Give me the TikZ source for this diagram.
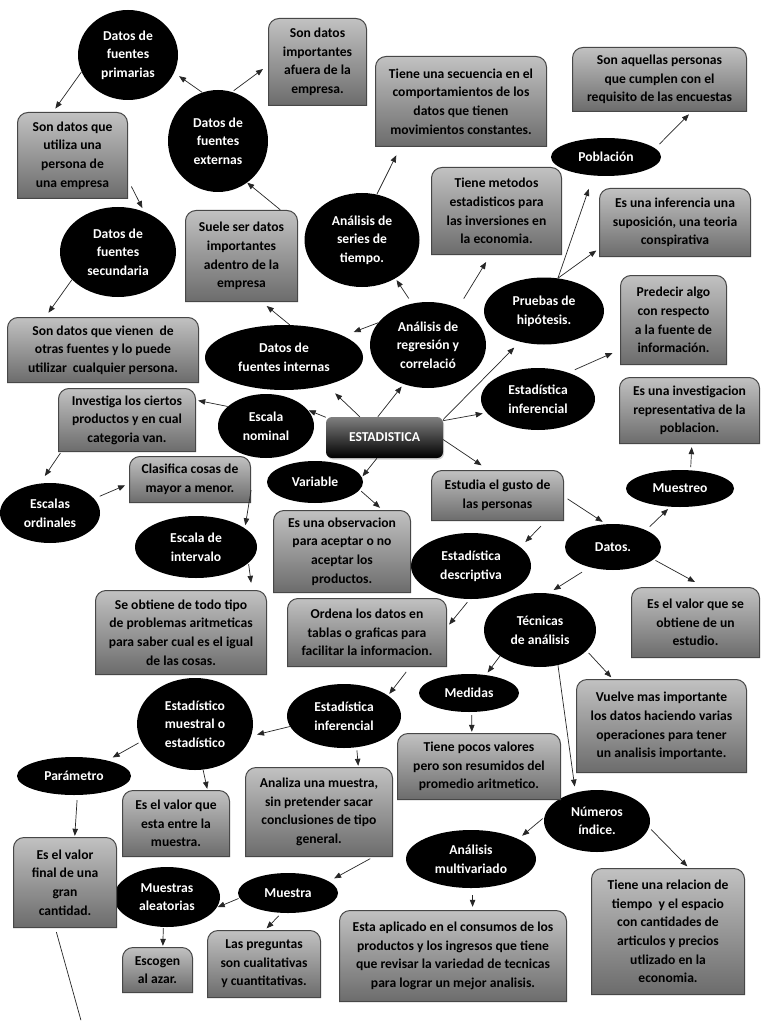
\documentclass[tikz,border=0pt]{standalone}
\usepackage{fontspec}
\setmainfont{Carlito}
\usetikzlibrary{arrows.meta,shapes.geometric,shadows}
\definecolor{boxtop}{gray}{0.76}
\definecolor{boxbot}{gray}{0.42}
\definecolor{boxline}{gray}{0.28}
\newcommand\bfnt{\fontsize{13.6}{18.6}\selectfont\bfseries}
\begin{document}
\begin{tikzpicture}[x=1pt,y=-1pt,
  ell/.style={ellipse, fill=black, text=white, inner sep=0pt, align=center, font=\bfnt},
  tbox/.style={rectangle, inner sep=0pt, align=center, font=\bfnt, text=black,
    path picture={
      \path[top color=boxtop, bottom color=boxbot, draw=boxline, line width=1pt]
        ([shift={(0.5pt,0.5pt)}]path picture bounding box.south west)
        -- ([shift={(0.5pt,-11pt)}]path picture bounding box.north west)
        arc[start angle=180, end angle=90, radius=10.5pt]
        -- ([shift={(-11pt,-0.5pt)}]path picture bounding box.north east)
        arc[start angle=90, end angle=0, radius=10.5pt]
        -- ([shift={(-0.5pt,0.5pt)}]path picture bounding box.south east)
        -- cycle;
    }},
  est/.style={rectangle, rounded corners=6pt, top color=black!50, middle color=black, bottom color=black,
    text=white, font=\bfnt, drop shadow={opacity=0.35, shadow xshift=1pt, shadow yshift=-1.5pt}},
  arr/.style={draw=black!85, line width=0.7pt, -{Triangle[length=7pt,width=5.5pt]}},
  plain/.style={draw=black!85, line width=0.7pt},
]
\useasboundingbox (0,0) rectangle (768,1024);
\fill[white] (0,0) rectangle (768,1024);

% ---------- ellipses ----------
\node[ell, minimum width=100pt, minimum height=90pt] (E1) at (128,55) {Datos de\\fuentes\\primarias};
\node[ell, minimum width=100pt, minimum height=102pt] (E2) at (218,141) {Datos de\\fuentes\\externas};
\node[ell, minimum width=116pt, minimum height=90pt] (E3) at (118,252) {Datos de\\fuentes\\secundaria};
\node[ell, minimum width=115pt, minimum height=94pt] (E4) at (362,240) {Análisis de\\series de\\tiempo.};
\node[ell, minimum width=158pt, minimum height=65pt] (E5) at (284,357.5) {Datos de\\fuentes internas};
\node[ell, minimum width=116pt, minimum height=86pt] (E6) at (428,345) {Análisis de\\regresión y\\correlació};
\node[ell, minimum width=110pt, minimum height=38pt] (E7) at (606,157) {Población};
\node[ell, minimum width=120pt, minimum height=67pt] (E8) at (544,311) {Pruebas de\\hipótesis.};
\node[ell, minimum width=114pt, minimum height=62pt] (E9) at (538,399) {Estadística\\inferencial};
\node[ell, minimum width=96pt, minimum height=64pt] (E10) at (266,426) {Escala\\nominal};
\node[ell, minimum width=96pt, minimum height=42pt] (E11) at (315,482) {Variable};
\node[ell, minimum width=100pt, minimum height=60pt] (E12) at (50,513) {Escalas\\ordinales};
\node[ell, minimum width=122pt, minimum height=62pt] (E13) at (196,547) {Escala de\\intervalo};
\node[ell, minimum width=108pt, minimum height=37pt] (E14) at (680,488.5) {Muestreo};
\node[ell, minimum width=96pt, minimum height=46pt] (E15) at (613,547) {Datos.};
\node[ell, minimum width=120pt, minimum height=66pt] (E16) at (471,566) {Estadística\\descriptiva};
\node[ell, minimum width=112pt, minimum height=74pt] (E17) at (540,630) {Técnicas\\de análisis};
\node[ell, minimum width=100pt, minimum height=38pt] (E18) at (469,693) {Medidas};
\node[ell, minimum width=116pt, minimum height=92pt] (E19) at (195,724) {Estadístico\\muestral o\\estadístico};
\node[ell, minimum width=114pt, minimum height=64pt] (E20) at (344,716) {Estadística\\inferencial};
\node[ell, minimum width=114pt, minimum height=38pt] (E21) at (74,776) {Parámetro};
\node[ell, minimum width=106pt, minimum height=62pt] (E22) at (597,821) {Números\\índice.};
\node[ell, minimum width=130pt, minimum height=58pt] (E23) at (471,859) {Análisis\\multivariado};
\node[ell, minimum width=106pt, minimum height=60pt] (E24) at (167,897) {Muestras\\aleatorias};
\node[ell, minimum width=100pt, minimum height=40pt] (E25) at (288,893) {Muestra};

% ---------- central node ----------
\node[est, minimum width=117pt, minimum height=41pt] (EST) at (384.5,437.5) {ESTADISTICA};

% ---------- boxes ----------
\node[tbox, minimum width=99pt, minimum height=88pt] (B1) at (317.5,62) {Son datos\\importantes\\afuera de la\\empresa.};
\node[tbox, minimum width=172pt, minimum height=91pt] (B2) at (461,101.5) {Tiene una secuencia en el\\comportamientos de los\\datos que tienen\\movimientos constantes.};
\node[tbox, minimum width=175pt, minimum height=65pt] (B3) at (659.5,79.5) {Son aquellas personas\\que cumplen con el\\requisito de las encuestas};
\node[tbox, minimum width=111pt, minimum height=87pt] (B4) at (72.5,155.5) {Son datos que\\utiliza una\\persona de\\una empresa};
\node[tbox, minimum width=131pt, minimum height=88pt] (B5) at (496.5,211) {Tiene metodos\\estadisticos para\\las inversiones en\\la economia.};
\node[tbox, minimum width=152pt, minimum height=69pt] (B6) at (675,222.5) {Es una inferencia una\\suposición, una teoria\\conspirativa};
\node[tbox, minimum width=113pt, minimum height=92pt] (B7) at (241.5,256) {Suele ser datos\\importantes\\adentro de la\\empresa};
\node[tbox, minimum width=192pt, minimum height=66pt] (B8) at (103,350) {Son datos que vienen\ \ de\\otras fuentes y lo puede\\utilizar\ \ cualquier persona.};
\node[tbox, minimum width=107pt, minimum height=90pt] (B9) at (673.5,320) {Predecir algo\\con respecto\\a la fuente de\\información.};
\node[tbox, minimum width=138pt, minimum height=64pt] (B10) at (127,420) {Investiga los ciertos\\productos y en cual\\categoria van.};
\node[tbox, minimum width=141pt, minimum height=67pt] (B11) at (689.5,410.5) {Es una investigacion\\representativa de la\\poblacion.};
\node[tbox, minimum width=122pt, minimum height=47pt] (B12) at (190,479.5) {Clasifica cosas de\\mayor a menor.};
\node[tbox, minimum width=133pt, minimum height=51pt] (B13) at (497.5,495.5) {Estudia el gusto de\\las personas};
\node[tbox, minimum width=138pt, minimum height=83pt] (B14) at (342,551.5) {Es una observacion\\para aceptar o no\\aceptar los\\productos.};
\node[tbox, minimum width=129pt, minimum height=71pt] (B15) at (695.5,622.5) {Es el valor que se\\obtiene de un\\estudio.};
\node[tbox, minimum width=172pt, minimum height=85pt] (B16) at (181,632.5) {Se obtiene de todo tipo\\de problemas aritmeticas\\para saber cual es el igual\\de las cosas.};
\node[tbox, minimum width=160pt, minimum height=69pt] (B17) at (367,632.5) {Ordena los datos en\\tablas o graficas para\\facilitar la informacion.};
\node[tbox, minimum width=171pt, minimum height=94pt] (B18) at (661.5,726) {Vuelve mas importante\\los datos haciendo varias\\operaciones para tener\\un analisis importante.};
\node[tbox, minimum width=164pt, minimum height=67pt] (B19) at (479,766.5) {Tiene pocos valores\\pero son resumidos del\\promedio aritmetico.};
\node[tbox, minimum width=108pt, minimum height=67pt] (B20) at (176,823.5) {Es el valor que\\esta entre la\\muestra.};
\node[tbox, minimum width=148pt, minimum height=90pt] (B21) at (319,812) {Analiza una muestra,\\sin pretender sacar\\conclusiones de tipo\\general.};
\node[tbox, minimum width=104pt, minimum height=91pt] (B22) at (65,882.5) {Es el valor\\final de una\\gran\\cantidad.};
\node[tbox, minimum width=154pt, minimum height=127pt] (B23) at (668,931.5) {Tiene una relacion de\\tiempo\ \ y el espacio\\con cantidades de\\articulos y precios\\utlizado en la\\economia.};
\node[tbox, minimum width=228pt, minimum height=92pt] (B24) at (453,956) {Esta aplicado en el consumos de los\\productos y los ingresos que tiene\\que revisar la variedad de tecnicas\\para lograr un mejor analisis.};
\node[tbox, minimum width=71pt, minimum height=46pt] (B25) at (157.5,970) {Escogen\\al azar.};
\node[tbox, minimum width=114pt, minimum height=68pt] (B26) at (264,964) {Las preguntas\\son cualitativas\\y cuantitativas.};

\coordinate (lineend) at (82,1024);

% ---------- connectors ----------
\draw[arr, shorten >=4pt] (E1.200) -- (B4.114);
\draw[arr, shorten >=6pt] (E2.108) -- (E1.339);
\draw[arr, shorten <=2pt, shorten >=6pt] (E2.74) -- (B1.184);
\draw[arr, shorten <=7pt, shorten >=4pt] (B4.336) -- (E3.57);
\draw[arr, shorten >=5pt] (E3.211) -- (B8.150);
\draw[arr] (B7.50) -- (E2.305);
\draw[arr, shorten >=6pt] (E5.80) -- (B7.294);
\draw[arr, shorten >=11pt] (E6.156) -- (E5.20);
\draw[arr, shorten >=9pt] (E4.72) -- (B2.217);
\draw[arr, shorten <=6pt, shorten >=2pt] (E6.111) -- (E4.311);
\draw[arr, shorten <=11pt, shorten >=8pt] (E6.51) -- (B5.262);
\draw[arr, shorten >=14pt] (E8.67) -- (E7.236);
\draw[arr, shorten >=3pt] (E8.67) -- (B6.199);
\draw[arr, shorten <=6pt, shorten >=3pt] (E7.10) -- (B3.314);
\draw[arr, shorten >=8pt] (EST.17) -- (E8.232);
\draw[arr, shorten >=3pt] (EST.108) -- (E6.238);
\draw[arr, shorten >=4pt] (EST.16) -- (E9.195);
\draw[arr, shorten <=7pt, shorten >=8pt] (E9.41) -- (B9.209);
\draw[arr, shorten >=8pt] (EST.358) -- (B13.110);
\draw[arr, shorten <=4pt, shorten >=4pt] (B13.359) -- (E15.107);
\draw[arr, shorten <=7pt, shorten >=7pt] (B13.332) -- (E16.21);
\draw[arr, shorten <=5pt, shorten >=3pt] (E15.27) -- (E14.242);
\draw[arr, shorten <=3pt, shorten >=3pt] (E14.60) -- (B11.274);
\draw[arr, shorten <=2pt, shorten >=10pt] (E15.343) -- (B15.77);
\draw[arr, shorten <=9pt, shorten >=6pt] (E15.221) -- (E17.77);
\draw[arr, shorten <=4pt, shorten >=3pt] (E16.268) -- (B17.4);
\draw[arr, shorten >=3pt] (E17.213) -- (E18.47);
\draw[arr, shorten >=6pt] (E17.297) -- (E22.127);
\draw[arr, shorten <=3pt, shorten >=2pt] (E17.336) -- (B18.136);
\draw[arr, shorten <=3pt, shorten >=1pt] (E18.278) -- (B19.102);
\draw[arr, shorten <=6pt, shorten >=2pt] (B17.321) -- (E20.25);
\draw[arr, shorten >=6pt] (E20.191) -- (E19.348);
\draw[arr, shorten <=3pt, shorten >=1pt] (E20.292) -- (B21.49);
\draw[arr, shorten <=3pt, shorten >=6pt] (E19.198) -- (E21.25);
\draw[arr, shorten >=1pt] (E19.280) -- (B20.47);
\draw[arr, shorten <=5pt, shorten >=1pt] (E21.280) -- (B22.78);
\draw[arr, shorten <=3pt, shorten >=6pt] (B21.320) -- (E25.16);
\draw[arr, shorten <=1pt, shorten >=1pt] (E25.186) -- (E24.348);
\draw[arr, shorten <=4pt, shorten >=2pt] (E25.252) -- (B26.88);
\draw[arr, shorten <=1pt, shorten >=1pt] (E24.263) -- (B25.77);
\draw[arr, shorten <=2pt, shorten >=5pt] (E22.176) -- (E23.23);
\draw[arr, shorten <=3pt, shorten >=2pt] (E22.353) -- (B23.72);
\draw[arr, shorten <=7pt, shorten >=3pt] (E23.273) -- (B24.67);
\draw[plain, shorten <=4pt, shorten >=4pt] (B22.258) -- (lineend);
\draw[arr, shorten >=1pt] (EST.161) -- (E10.21);
\draw[arr, shorten >=12pt] (EST.140) -- (E5.327);
\draw[arr, shorten >=2pt] (E10.153) -- (B10.16);
\draw[arr, shorten <=1pt, shorten >=9pt] (B10.206) -- (E12.109);
\draw[arr, shorten <=6pt, shorten >=4pt] (E12.18) -- (B12.184);
\draw[arr, shorten <=1pt, shorten >=3pt] (B12.351) -- (E13.21);
\draw[arr, shorten <=1pt, shorten >=7pt] (E13.343) -- (B16.31);
\draw[arr, shorten >=1pt] (EST.250) -- (E11.6);
\draw[arr, shorten <=2pt, shorten >=3pt] (E11.350) -- (B14.46);
\end{tikzpicture}
\end{document}
